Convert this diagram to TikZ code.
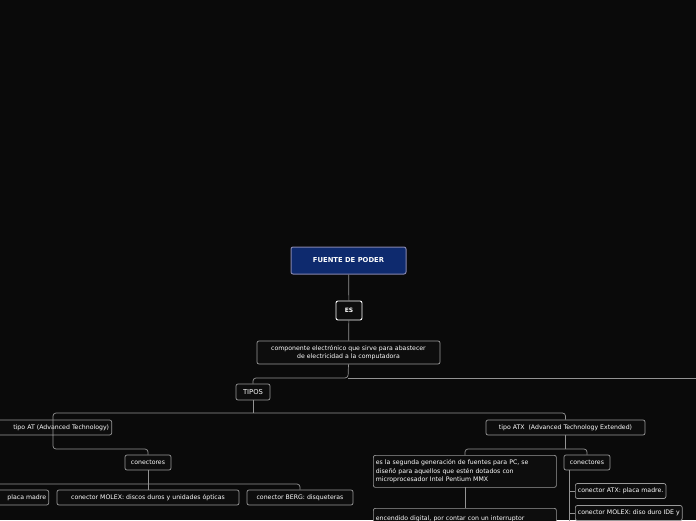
\documentclass[tikz,border=0pt]{standalone}
\usepackage{fontspec}
\setmainfont{DejaVu Sans}
\definecolor{navy}{HTML}{0E2A6E}
\begin{document}
\begin{tikzpicture}[x=1pt,y=-1pt,
  box/.style={draw=gray!80,line width=0.7pt,rounded corners=2pt,fill=black!95,text=white!90,font=\fontsize{6.2}{8.5}\selectfont,inner sep=2.5pt,minimum height=15pt},
  wire/.style={draw=gray!85,line width=0.7pt,rounded corners=3pt}]
\fill[black!96] (0,0) rectangle (696,520);
\clip (0,0) rectangle (696,520);
\useasboundingbox (0,0) rectangle (696,520);
\node[box,draw=blue!20!gray!80,fill=navy,font=\bfseries\fontsize{6.8}{8}\selectfont,minimum width=115pt,minimum height=27pt,line width=1pt] (fp) at (348.5,260.5) {FUENTE DE PODER};
\node[box,draw=white!85,font=\bfseries\fontsize{6}{8}\selectfont,minimum width=26pt,minimum height=19pt,line width=0.9pt] (es) at (349,310.5) {ES};
\node[box,align=center,minimum width=183pt,minimum height=23pt] (comp) at (348.5,352.5) {componente electrónico que sirve para abastecer\\de electricidad a la computadora};
\node[box,font=\fontsize{6.8}{8}\selectfont,minimum width=34pt,minimum height=16pt] (tipos) at (253,392) {TIPOS};
\node[box,anchor=east,text width=110pt,align=right,minimum height=15pt] (at) at (112,427.5) {tipo AT (Advanced Technology)};
\node[box,minimum width=159pt] (atx) at (565.5,427.5) {tipo ATX\ \ (Advanced Technology Extended)};
\node[box,minimum width=46pt] (con1) at (148,462.5) {conectores};
\node[box,anchor=east,text width=60pt,align=right] (pm) at (49,497.5) {placa madre};
\node[box,minimum width=182pt] (mol) at (148,497.5) {conector MOLEX: discos duros y unidades ópticas};
\node[box,minimum width=106pt] (berg) at (300,497.5) {conector BERG: disqueteras};
\node[box,anchor=north west,text width=178pt,align=left,minimum height=32pt] (seg) at (373,455) {es la segunda generación de fuentes para PC, se\\diseñó para aquellos que estén dotados con\\microprocesador Intel Pentium MMX};
\node[box,minimum width=46pt] (con2) at (587,462.5) {conectores};
\node[box,anchor=north west,text width=178pt,align=left,minimum height=20pt] (enc) at (373,508) {encendido digital, por contar con un interruptor};
\node[box,anchor=west] (atxpm) at (575,491) {conector ATX: placa madre.};
\node[box,anchor=west] (atxmol) at (575,513) {conector MOLEX: diso duro IDE y};
\draw[wire] (fp) -- (es);
\draw[wire] (es) -- (comp);
\draw[wire] (comp.south) -- (348,378) -- (253,378) -- (tipos.north);
\draw[wire] (348,378) -- (700,378);
\draw[wire] (tipos.south) -- (253,413);
\draw[wire] (at.south -| 53,0) |- (253,413) -| (atx.north);
\draw[wire] (53,435) -- (53,449) -- (148,449) -- (con1.north);
\draw[wire] (con1.south) -- (148,484);
\draw[wire] (-5,484) -- (300,484) -- (berg.north);
\draw[wire] (148,484) -- (mol.north);
\draw[wire] (atx.south) -- (565.5,449);
\draw[wire] (465,455) |- (565.5,449) -| (con2.north);
\draw[wire] (465,487) -- (enc.north -| 465,0);
\draw[wire] (569,470) -- (569,525);
\draw[wire] (569,491) -- (atxpm.west);
\draw[wire] (569,513) -- (atxmol.west);
\end{tikzpicture}
\end{document}
